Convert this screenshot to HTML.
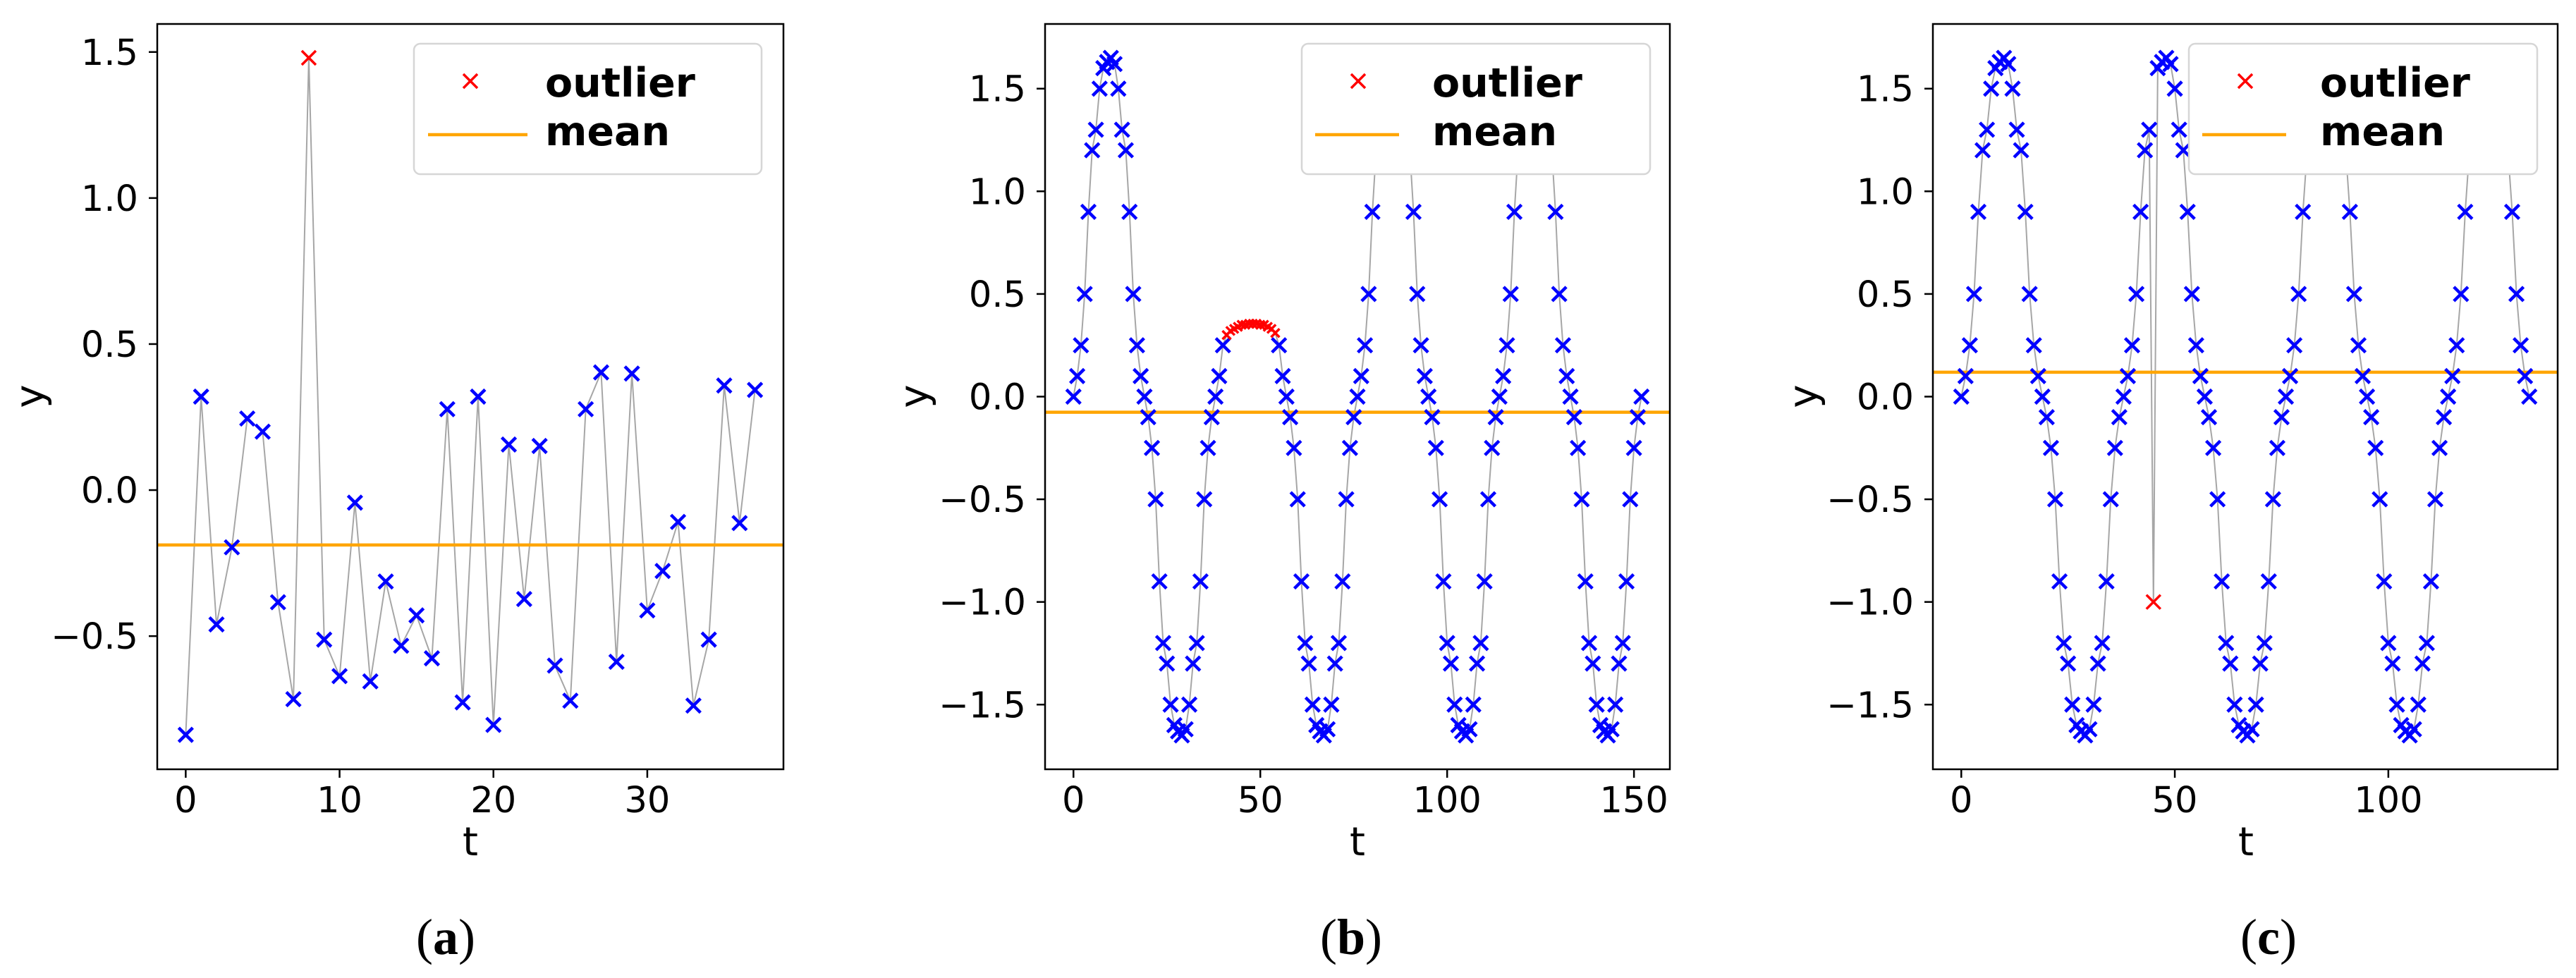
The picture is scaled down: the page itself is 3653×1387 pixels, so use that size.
<!DOCTYPE html>
<html><head><meta charset="utf-8">
<style>
html,body{margin:0;padding:0;background:#fff;}
svg{display:block;}
</style></head>
<body>
<svg id="fig" xmlns="http://www.w3.org/2000/svg" width="3653" height="1387" viewBox="0 0 3653 1387"></svg>
<script>
// ---------- data ----------
const tA = [0,1,2,3,4,5,6,7,8,9,10,11,12,13,14,15,16,17,18,19,20,21,22,23,24,25,26,27,28,29,30,31,32,33,34,35,36,37];
const yA = [-0.838,0.32,-0.46,-0.196,0.245,0.20,-0.384,-0.716,1.48,-0.512,-0.637,-0.043,-0.655,-0.313,-0.533,-0.429,-0.576,0.277,-0.727,0.32,-0.804,0.156,-0.373,0.151,-0.601,-0.721,0.277,0.403,-0.588,0.399,-0.412,-0.277,-0.109,-0.738,-0.512,0.358,-0.113,0.343];
const outA = [8];
const meanA = [-0.188];

const yB = [
0,0.1,0.25,0.5,0.9,1.2,1.3,1.5,1.6,1.63,1.65,1.62,1.5,1.3,1.2,0.9,0.5,0.25,0.1,0,-0.1,-0.25,-0.5,-0.9,-1.2,-1.3,-1.5,-1.6,-1.63,-1.65,-1.62,-1.5,-1.3,-1.2,-0.9,-0.5,-0.25,-0.1,
0,0.1,0.25,0.30,0.32,0.33,0.34,0.35,0.35,0.355,0.355,0.355,0.35,0.35,0.34,0.33,0.31,0.25,0.1,0,-0.1,-0.25,-0.5,-0.9,-1.2,-1.3,-1.5,-1.6,-1.63,-1.65,-1.62,-1.5,-1.3,-1.2,-0.9,-0.5,-0.25,-0.1,
0,0.1,0.25,0.5,0.9,1.2,1.3,1.5,1.6,1.63,1.65,1.62,1.5,1.3,1.2,0.9,0.5,0.25,0.1,0,-0.1,-0.25,-0.5,-0.9,-1.2,-1.3,-1.5,-1.6,-1.63,-1.65,-1.62,-1.5,-1.3,-1.2,-0.9,-0.5,-0.25,-0.1,
0,0.1,0.25,0.5,0.9,1.2,1.3,1.5,1.6,1.63,1.65,1.62,1.5,1.3,1.2,0.9,0.5,0.25,0.1,0,-0.1,-0.25,-0.5,-0.9,-1.2,-1.3,-1.5,-1.6,-1.63,-1.65,-1.62,-1.5,-1.3,-1.2,-0.9,-0.5,-0.25,-0.1,
0];
const outB = [41,42,43,44,45,46,47,48,49,50,51,52,53,54];
const meanB = [-0.076];

const yC = [
0,0.1,0.25,0.5,0.9,1.2,1.3,1.5,1.6,1.63,1.65,1.62,1.5,1.3,1.2,0.9,0.5,0.25,0.1,0,-0.1,-0.25,-0.5,-0.9,-1.2,-1.3,-1.5,-1.6,-1.63,-1.65,-1.62,-1.5,-1.3,-1.2,-0.9,-0.5,-0.25,-0.1,
0,0.1,0.25,0.5,0.9,1.2,1.3,-1.0,1.6,1.63,1.65,1.62,1.5,1.3,1.2,0.9,0.5,0.25,0.1,0,-0.1,-0.25,-0.5,-0.9,-1.2,-1.3,-1.5,-1.6,-1.63,-1.65,-1.62,-1.5,-1.3,-1.2,-0.9,-0.5,-0.25,-0.1,
0,0.1,0.25,0.5,0.9,1.2,1.3,1.5,1.6,1.63,1.65,1.62,1.5,1.3,1.2,0.9,0.5,0.25,0.1,0,-0.1,-0.25,-0.5,-0.9,-1.2,-1.3,-1.5,-1.6,-1.63,-1.65,-1.62,-1.5,-1.3,-1.2,-0.9,-0.5,-0.25,-0.1,
0,0.1,0.25,0.5,0.9,1.2,1.3,1.5,1.6,1.63,1.65,1.62,1.5,1.3,1.2,0.9,0.5,0.25,0.1,0];
const outC = [45];
const meanC = [0.119];

const xTicksA = [0,10,20,30];
const xTicksB = [0,50,100,150];
const xTicksC = [0,50,100];
const yTicksA = [-0.5,0.0,0.5,1.0,1.5];
const yTicksBC = [-1.5,-1.0,-0.5,0.0,0.5,1.0,1.5];
const captions = ["(a)","(b)","(c)"];

// ---------- drawing ----------
const NS = "http://www.w3.org/2000/svg";
const svg = document.getElementById("fig");
function mk(tag, attrs, parent){
  const e = document.createElementNS(NS, tag);
  for (const k in attrs) e.setAttribute(k, attrs[k]);
  (parent||svg).appendChild(e);
  return e;
}
function fmt(v){ const s = v.toFixed(1); return v < 0 ? "\u2212" + s.slice(1) : s; }
function xMark(g, cx, cy, half, color, sw){
  return mk("path", {d:`M${cx-half},${cy-half}L${cx+half},${cy+half}M${cx-half},${cy+half}L${cx+half},${cy-half}`, stroke:color, "stroke-width":sw, fill:"none"}, g);
}

function panel(cfg, idx){
  const {L,R,T,B,xmin,xmax,ymin,ymax,ys,outs,mean,xticks,yticks,leg,ylabX,capX,tlabX} = cfg;
  const sx = v => L + (v - xmin) / (xmax - xmin) * (R - L);
  const sy = v => B - (v - ymin) / (ymax - ymin) * (B - T);
  const g = mk("g", {});
  
  
  const cid = "clip" + idx;
  const cp = mk("clipPath", {id: cid}, g);
  mk("rect", {x:L, y:T, width:R-L, height:B-T}, cp);
  const plot = mk("g", {"clip-path": `url(#${cid})`}, g);
  
  
  let d = "";
  ys.forEach((v,i)=>{ d += (i?"L":"M") + sx(i).toFixed(2) + "," + sy(v).toFixed(2); });
  const ln = mk("path", {d, fill:"none", stroke:"#a6a6a6", "stroke-width":2}, plot);
  
  
  const ml = mk("line", {x1:L, x2:R, y1:sy(mean[0]), y2:sy(mean[0]), stroke:"#ffa500", "stroke-width":4.5}, plot);
  
  
  ys.forEach((v,i)=>{
    const isOut = outs.indexOf(i) >= 0;
    const m = isOut ? xMark(plot, sx(i), sy(v), idx===1?6:10, "#ff0000", 3.5)
                    : xMark(plot, sx(i), sy(v), 10, "#0000ff", 4.5);
    
    
  });
  const fr = mk("rect", {x:L, y:T, width:R-L, height:B-T, fill:"none", stroke:"#000", "stroke-width":2.5}, g);
  
  
  xticks.forEach(v=>{
    const x = sx(v);
    const tk = mk("line", {x1:x, x2:x, y1:B, y2:B+12, stroke:"#000", "stroke-width":2.5}, g);
    
    
    const tx = mk("text", {x:x, y:B+61, "text-anchor":"middle", "font-size":51, "font-family":"'DejaVu Sans','Liberation Sans',sans-serif"}, g);
    tx.textContent = String(v);
    
    
  });
  yticks.forEach(v=>{
    const y = sy(v);
    const tk = mk("line", {x1:L-12, x2:L, y1:y, y2:y, stroke:"#000", "stroke-width":2.5}, g);
    
    
    const tx = mk("text", {x:L-27, y:y+18, "text-anchor":"end", "font-size":51, "font-family":"'DejaVu Sans','Liberation Sans',sans-serif"}, g);
    tx.textContent = fmt(v);
    
    
  });
  const xl = mk("text", {x:tlabX, y:1213, "text-anchor":"middle", "font-size":56, "font-family":"'DejaVu Sans','Liberation Sans',sans-serif"}, g);
  xl.textContent = "t";
  
  
  const yl = mk("text", {x:ylabX, y:562, "text-anchor":"middle", "font-size":56, "font-family":"'DejaVu Sans','Liberation Sans',sans-serif", transform:`rotate(-90 ${ylabX} 562)`, dy:"0.35em"}, g);
  yl.textContent = "y";
  
  
  const lg = mk("g", {}, g);
  
  
  mk("rect", {x:leg.x1, y:62, width:leg.x2-leg.x1, height:185, rx:9, fill:"#fff", stroke:"#d6d6d6", "stroke-width":2.5}, lg);
  const lm = xMark(lg, leg.mk, 115, 10, "#ff0000", 3.5);
  
  
  const lt1 = mk("text", {x:leg.tx, y:137, "font-size":57, "font-weight":"bold", "font-family":"'DejaVu Sans','Liberation Sans',sans-serif"}, lg);
  lt1.textContent = "outlier";
  
  
  const ll = mk("line", {x1:leg.l1, x2:leg.l2, y1:191, y2:191, stroke:"#ffa500", "stroke-width":4.5}, lg);
  
  
  const lt2 = mk("text", {x:leg.tx, y:206, "font-size":57, "font-weight":"bold", "font-family":"'DejaVu Sans','Liberation Sans',sans-serif"}, lg);
  lt2.textContent = "mean";
  
  
  const cap = mk("text", {x:capX, y:1353, "text-anchor":"middle", "font-size":72, "font-family":"'Liberation Serif',serif"}, g);
  cap.innerHTML = '(<tspan font-weight="bold">' + captions[idx].slice(1,2) + '</tspan>)';
  
  
}

panel({L:223,R:1111,T:34,B:1091,xmin:-1.85,xmax:38.85,ymin:-0.956,ymax:1.596,
  ys:yA,outs:outA,mean:meanA,xticks:xTicksA,yticks:yTicksA,
  leg:{x1:587,x2:1080,mk:667,tx:773,l1:607,l2:748},ylabX:42,capX:632,tlabX:667},0);
panel({L:1482,R:2368,T:34,B:1091,xmin:-7.6,xmax:159.6,ymin:-1.815,ymax:1.815,
  ys:yB,outs:outB,mean:meanB,xticks:xTicksB,yticks:yTicksBC,
  leg:{x1:1846,x2:2340,mk:1926,tx:2031,l1:1865,l2:1984},ylabX:1296,capX:1916,tlabX:1925},1);
panel({L:2741,R:3627,T:34,B:1091,xmin:-6.65,xmax:139.65,ymin:-1.815,ymax:1.815,
  ys:yC,outs:outC,mean:meanC,xticks:xTicksC,yticks:yTicksBC,
  leg:{x1:3104,x2:3598,mk:3184,tx:3290,l1:3123,l2:3242},ylabX:2557,capX:3217,tlabX:3185},2);
</script>
</body></html>
